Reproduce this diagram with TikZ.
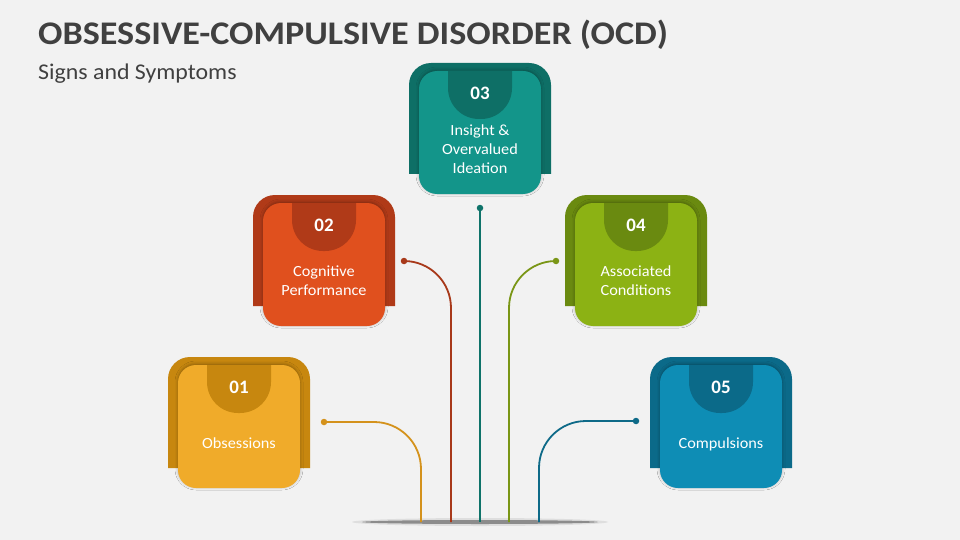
\documentclass[tikz,border=0pt]{standalone}
\usepackage{fontspec}
\usepackage{graphicx}
\setmainfont{Carlito}
\usetikzlibrary{shadows.blur}
\definecolor{bgc}{HTML}{F2F2F2}
\definecolor{titc}{HTML}{404040}
\definecolor{fA}{HTML}{F0AB2A}\definecolor{bA}{HTML}{C7870F}\definecolor{lA}{HTML}{D4921C}
\definecolor{fB}{HTML}{E0501E}\definecolor{bB}{HTML}{B03A18}\definecolor{lB}{HTML}{A8391A}
\definecolor{fC}{HTML}{13958A}\definecolor{bC}{HTML}{0E6F66}\definecolor{lC}{HTML}{0F736A}
\definecolor{fD}{HTML}{8CB214}\definecolor{bD}{HTML}{6A8A10}\definecolor{lD}{HTML}{7A9616}
\definecolor{fE}{HTML}{0E8DB5}\definecolor{bE}{HTML}{0B6A89}\definecolor{lE}{HTML}{0E6A88}
\tikzset{
  numtext/.style={text=white,font=\bfseries\fontsize{19}{20}\selectfont,inner sep=0},
  labtext/.style={text=white,font=\fontsize{15.5}{19}\selectfont,align=center,inner sep=0},
  conn/.style={line width=1.8pt},
  dotc/.style={circle,inner sep=0,minimum size=6.5pt},
}
% #1 center x, #2 top y, #3 front, #4 back, #5 number, #6 label, #7 name
\newcommand{\ocdcard}[7]{%
  \fill[#4,rounded corners=22pt] (#1-71,#2+111) -- (#1-71,#2) -- (#1+71,#2) -- (#1+71,#2+111);
  \fill[#4] (#1-71,#2+100) rectangle (#1+71,#2+111);
  \fill[#3,rounded corners=18pt,blur shadow={shadow xshift=0pt,shadow yshift=1pt,shadow blur radius=3pt,shadow opacity=30}] (#1-61,#2+8) rectangle (#1+61,#2+131);
  \begin{scope}
    \clip[rounded corners=18pt] (#1-61,#2+8) rectangle (#1+61,#2+131);
    \fill[#4,rounded corners=31pt] (#1-32,#2) -- (#1-32,#2+56) -- (#1+32,#2+56) -- (#1+32,#2);
  \end{scope}
  \node[numtext] (#7num) at (#1,#2+30.5) {#5};
  \node[labtext] (#7lab) at (#1,#2+87.5) {\scalebox{1.05}[1]{\begin{tabular}{@{}c@{}}#6\end{tabular}}};
}
\begin{document}
\begin{tikzpicture}[x=1pt,y=-1pt]
\fill[bgc] (0,0) rectangle (960,540);
\useasboundingbox (0,0) rectangle (960,540);
\node[anchor=west,text=titc,font=\bfseries\fontsize{33}{34}\selectfont,inner sep=0] (title) at (38,35) {\scalebox{1.094}[1]{OBSESSIVE-COMPULSIVE DISORDER (OCD)}};
\node[anchor=west,text=titc,font=\fontsize{22.5}{24}\selectfont,inner sep=0] (sub) at (38,74) {\scalebox{1.06}[1]{Signs and Symptoms}};

% base shadow
\fill[black!20,opacity=0.5] (480,522) ellipse (128pt and 4pt);
\fill[black!45] (480,522) ellipse (118pt and 2pt);

\ocdcard{239}{357}{fA}{bA}{01}{Obsessions}{c1}
\ocdcard{324}{195}{fB}{bB}{02}{Cognitive\\Performance}{c2}
\ocdcard{480}{63}{fC}{bC}{03}{Insight \&\\Overvalued\\Ideation}{c3}
\ocdcard{636}{195}{fD}{bD}{04}{Associated\\Conditions}{c4}
\ocdcard{721}{357}{fE}{bE}{05}{Compulsions}{c5}

% connector points
\node[dotc,fill=lA] (d1) at (324,422) {};
\node[dotc,fill=lB] (d2) at (404,261) {};
\node[dotc,fill=lC] (d3) at (480,208) {};
\node[dotc,fill=lD] (d4) at (556,261) {};
\node[dotc,fill=lE] (d5) at (636,421) {};
\coordinate (e1) at (421,522);
\coordinate (e2) at (451,522);
\coordinate (e3) at (480,522);
\coordinate (e4) at (509,522);
\coordinate (e5) at (539,522);

\draw[conn,lA,rounded corners=47pt] (d1.center) -| (e1);
\draw[conn,lB,rounded corners=47pt] (d2.center) -| (e2);
\draw[conn,lC] (d3.center) -- (e3);
\draw[conn,lD,rounded corners=47pt] (d4.center) -| (e4);
\draw[conn,lE,rounded corners=47pt] (d5.center) -| (e5);
\end{tikzpicture}
\end{document}
